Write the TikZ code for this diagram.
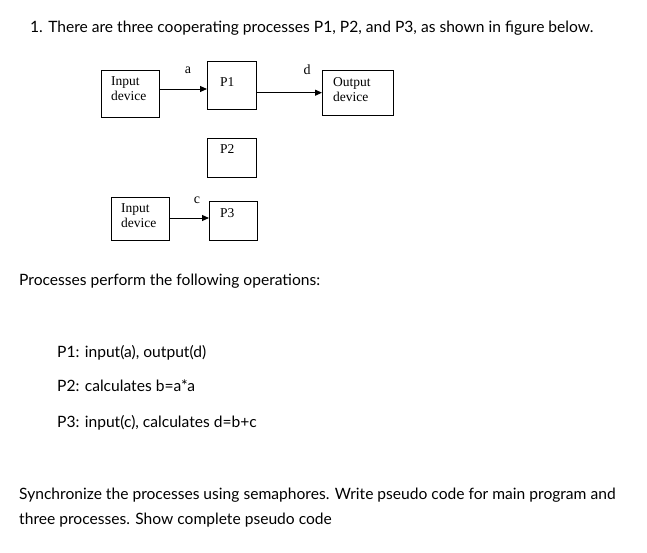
\documentclass[tikz,border=0pt]{standalone}
\usepackage{fontspec}
\setmainfont{Lato}
\newfontfamily\tnr{Liberation Serif}
\usetikzlibrary{arrows.meta}
\begin{document}
\begin{tikzpicture}[x=1pt,y=-1pt,
  box/.style={draw,line width=1pt},
  btxt/.style={anchor=north west,inner sep=0pt,font=\tnr\fontsize{13.5}{15.5}\selectfont,align=left},
  lbl/.style={font=\tnr\fontsize{14}{16}\selectfont,inner sep=0pt},
  txt/.style={anchor=base west,inner sep=0pt,font=\fontsize{15.6}{18}\selectfont},
  arr/.style={-{Triangle[length=7pt,width=6pt]},line width=1pt}]
\useasboundingbox (0,0) rectangle (647,552);
\draw[box] (101.7,70) rectangle (159.3,117.7);
\node[btxt] (in1) at (111,76) {Input\\device};
\draw[box] (207,61) rectangle (256,109);
\node[btxt] (p1) at (220,77) {P1};
\draw[box] (322,70) rectangle (393,115);
\node[btxt] (out) at (333,77) {Output\\device};
\draw[box] (207,138) rectangle (256,177);
\node[btxt] (p2) at (220,144) {P2};
\draw[box] (111.7,197.7) rectangle (169,240);
\node[btxt] (in2) at (121,203) {Input\\device};
\draw[box] (209,201.7) rectangle (257,240);
\node[btxt] (p3) at (220,208) {P3};
\coordinate (a1) at (159.3,89); \coordinate (a2) at (207,89);
\coordinate (d1) at (256,92.7); \coordinate (d2) at (322,92.7);
\coordinate (c1) at (169,218); \coordinate (c2) at (209,218);
\draw[arr] (a1) -- (a2);
\draw[arr] (d1) -- (d2);
\draw[arr] (c1) -- (c2);
\node[lbl] (la) at (188,70) {a};
\node[lbl] (ld) at (307,70) {d};
\node[lbl] (lc) at (197,200) {c};
\node[txt] (t0) at (30,32) {1. There are three cooperating processes P1, P2, and P3, as shown in figure below.};
\node[txt] (t1) at (19,285) {Processes perform the following operations:};
\node[txt] (t2) at (57,357) {P1: input(a), output(d)};
\node[txt] (t3) at (57,391) {P2: calculates b=a*a};
\node[txt] (t4) at (57,427) {P3: input(c), calculates d=b+c};
\node[txt] (t5) at (19,499) {Synchronize the processes using semaphores. Write pseudo code for main program and};
\node[txt] (t6) at (19,524) {three processes. Show complete pseudo code};
\end{tikzpicture}
\end{document}
